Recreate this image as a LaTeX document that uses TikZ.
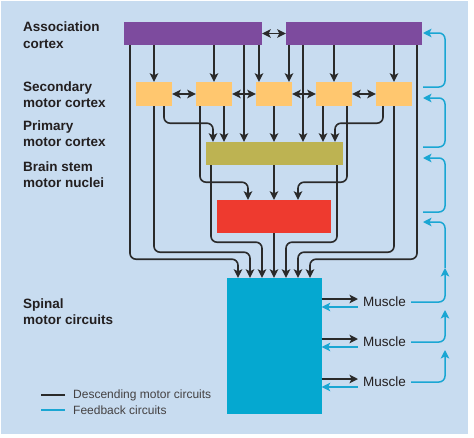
\documentclass[tikz,border=0pt]{standalone}
\usepackage{fontspec}
\setmainfont{Liberation Sans}
\usetikzlibrary{arrows.meta}
\definecolor{motorpanel}{HTML}{C8DCF0}
\definecolor{motorink}{HTML}{231F20}
\definecolor{motorline}{HTML}{2A2A2A}
\definecolor{motorpurple}{HTML}{7D4B9E}
\definecolor{motororange}{HTML}{FFC76F}
\definecolor{motorolive}{HTML}{BDB352}
\definecolor{motorred}{HTML}{EE3A2F}
\definecolor{motorcyan}{HTML}{05A8D0}
\definecolor{motorfeed}{HTML}{1AA6D3}
\tikzset{
  motorbox/.style={
    rectangle,
    draw=none,
    inner sep=0pt
  },
  assocbox/.style={motorbox, fill=motorpurple, minimum width=138pt, minimum height=23pt},
  secbox/.style={motorbox, fill=motororange, minimum width=36pt, minimum height=24pt},
  primbox/.style={motorbox, fill=motorolive, minimum width=137pt, minimum height=23pt},
  brainbox/.style={motorbox, fill=motorred, minimum width=114pt, minimum height=33pt},
  spinalbox/.style={motorbox, fill=motorcyan, minimum width=95pt, minimum height=136pt},
  levellabel/.style={
    anchor=west,
    align=left,
    inner sep=0pt,
    text=motorink,
    font=\fontsize{13.5}{16.5}\selectfont\bfseries
  },
  muscletext/.style={anchor=west, inner xsep=5pt, inner ysep=2pt, text=motorink, font=\fontsize{13.5}{16}\selectfont},
  legendtext/.style={anchor=west, inner sep=3pt, text=motorink!85, font=\fontsize{12}{14}\selectfont},
  motorwire/.style={line width=1.6pt, draw=motorline, rounded corners=6pt},
  motorarrow/.style={motorwire, -{Stealth[length=8.5pt, width=8.5pt, inset=2pt]}},
  motorboth/.style={motorwire, {Stealth[length=8.5pt, width=8.5pt, inset=2pt]}-{Stealth[length=8.5pt, width=8.5pt, inset=2pt]}},
  feedwire/.style={line width=1.5pt, draw=motorfeed, rounded corners=6pt},
  feedarrow/.style={feedwire, -{Stealth[length=8.5pt, width=8.5pt, inset=2pt]}}
}
\begin{document}
\begin{tikzpicture}[x=1pt, y=-1pt]
\useasboundingbox (0,0) rectangle (474,437);
\fill[white] (0,0) rectangle (474,437);
\fill[motorpanel] (1,1) rectangle (468,434);

% level names
\node[levellabel] (lassoc) at (23,35) {Association\\cortex};
\node[levellabel] (lsec) at (23,94.5) {Secondary\\motor cortex};
\node[levellabel] (lprim) at (23,133.5) {Primary\\motor cortex};
\node[levellabel] (lbrain) at (23,174.5) {Brain stem\\motor nuclei};
\node[levellabel] (lspinal) at (23,311.5) {Spinal\\motor circuits};

% boxes
\node[assocbox] (assocL) at (193,33.5) {};
\node[assocbox, minimum width=136pt] (assocR) at (354,33.5) {};
\node[secbox] (sec1) at (154,94) {};
\node[secbox] (sec2) at (214,94) {};
\node[secbox] (sec3) at (274,94) {};
\node[secbox] (sec4) at (334,94) {};
\node[secbox] (sec5) at (394,94) {};
\node[primbox] (prim) at (274,153.5) {};
\node[brainbox] (brain) at (274,216.5) {};
\node[spinalbox] (spinal) at (274,346) {};

% muscles
\node[muscletext] (m1) at (358,302) {Muscle};
\node[muscletext] (m2) at (358,342) {Muscle};
\node[muscletext] (m3) at (358,382) {Muscle};

% feedback ends
\coordinate (fbtopA) at (423,33);
\coordinate (fbbotA) at (423,87);
\coordinate (fbtopB) at (423,98);
\coordinate (fbbotB) at (423,147);
\coordinate (fbtopC) at (423,158);
\coordinate (fbbotC) at (423,212);
\coordinate (fbtopD) at (423,222);
\coordinate (rise1) at (445,268);
\coordinate (rise2) at (445,310);
\coordinate (rise3) at (445,350);

% association cortex
\draw[motorboth] (assocL) -- (assocR);
\draw[motorarrow] ([xshift=-63pt]assocL.south) -- ++(0,214) -| ([xshift=-36pt]spinal.north);
\draw[motorarrow] ([xshift=-39pt]assocL.south) -- (sec1.north);
\draw[motorarrow] ([xshift=21pt]assocL.south) -- (sec2.north);
\draw[motorarrow] ([xshift=51pt]assocL.south) -- ([xshift=-30pt]prim.north);
\draw[motorarrow] ([xshift=66pt]assocL.south) -- ([xshift=-15pt]sec3.north);
\draw[motorarrow] ([xshift=-65pt]assocR.south) -- ([xshift=15pt]sec3.north);
\draw[motorarrow] ([xshift=-51pt]assocR.south) -- ([xshift=29pt]prim.north);
\draw[motorarrow] ([xshift=-20pt]assocR.south) -- (sec4.north);
\draw[motorarrow] ([xshift=40pt]assocR.south) -- (sec5.north);
\draw[motorarrow] ([xshift=63pt]assocR.south) -- ++(0,214) -| ([xshift=36pt]spinal.north);

% secondary motor cortex
\draw[motorboth] (sec1) -- (sec2);
\draw[motorboth] (sec2) -- (sec3);
\draw[motorboth] (sec3) -- (sec4);
\draw[motorboth] (sec4) -- (sec5);
\draw[motorarrow] (sec1.south) -- ++(0,146) -| ([xshift=-24pt]spinal.north);
\draw[motorarrow] ([xshift=10pt]sec1.south) -- ++(0,17) -| ([xshift=-61pt]prim.north);
\draw[motorarrow] ([xshift=-14pt]sec2.south) -- ++(0,76) -| ([xshift=-26pt]brain.north);
\draw[motorarrow] ([xshift=10pt]sec2.south) -- ([xshift=-50pt]prim.north);
\draw[motorarrow] (sec3) -- (prim);
\draw[motorarrow] ([xshift=-11pt]sec4.south) -- ([xshift=49pt]prim.north);
\draw[motorarrow] ([xshift=13pt]sec4.south) -- ++(0,76) -| ([xshift=24pt]brain.north);
\draw[motorarrow] ([xshift=-11pt]sec5.south) -- ++(0,17) -| ([xshift=61pt]prim.north);
\draw[motorarrow] (sec5.south) -- ++(0,146) -| ([xshift=24pt]spinal.north);

% primary motor cortex and brain stem
\draw[motorarrow] ([xshift=-63pt]prim.south) -- ++(0,77) -| ([xshift=-12pt]spinal.north);
\draw[motorarrow] (prim) -- (brain);
\draw[motorarrow] ([xshift=63pt]prim.south) -- ++(0,77) -| ([xshift=12pt]spinal.north);
\draw[motorarrow] (brain) -- (spinal);

% spinal cord and muscles
\path (m1.west) ++(0,-3) coordinate (m1out) ++(0,8) coordinate (m1in);
\path (m2.west) ++(0,-3) coordinate (m2out) ++(0,8) coordinate (m2in);
\path (m3.west) ++(0,-3) coordinate (m3out) ++(0,8) coordinate (m3in);
\draw[motorarrow] (spinal.east |- m1out) -- (m1out);
\draw[motorarrow] (spinal.east |- m2out) -- (m2out);
\draw[motorarrow] (spinal.east |- m3out) -- (m3out);
\draw[feedarrow] (m1in) -- (spinal.east |- m1in);
\draw[feedarrow] (m2in) -- (spinal.east |- m2in);
\draw[feedarrow] (m3in) -- (spinal.east |- m3in);

% feedback
\draw[feedarrow] (m1.east) -| (rise1);
\draw[feedarrow] (m2.east) -| (rise2);
\draw[feedarrow] (m3.east) -| (rise3);
\draw[feedarrow] (rise1) |- (fbtopD);
\draw[feedarrow] (fbbotC) -- ++(22,0) |- (fbtopC);
\draw[feedarrow] (fbbotB) -- ++(22,0) |- (fbtopB);
\draw[feedarrow] (fbbotA) -- ++(22,0) |- (fbtopA);

% legend
\node[legendtext] (legdesc) at (70,395) {Descending motor circuits};
\node[legendtext] (legfeed) at (70,410) {Feedback circuits};
\draw[motorwire, line width=1.4pt] (legdesc.west) ++(-5,0) -- ++(-24,0);
\draw[feedwire, line width=1.4pt] (legfeed.west) ++(-5,0) -- ++(-24,0);
\end{tikzpicture}
\end{document}
